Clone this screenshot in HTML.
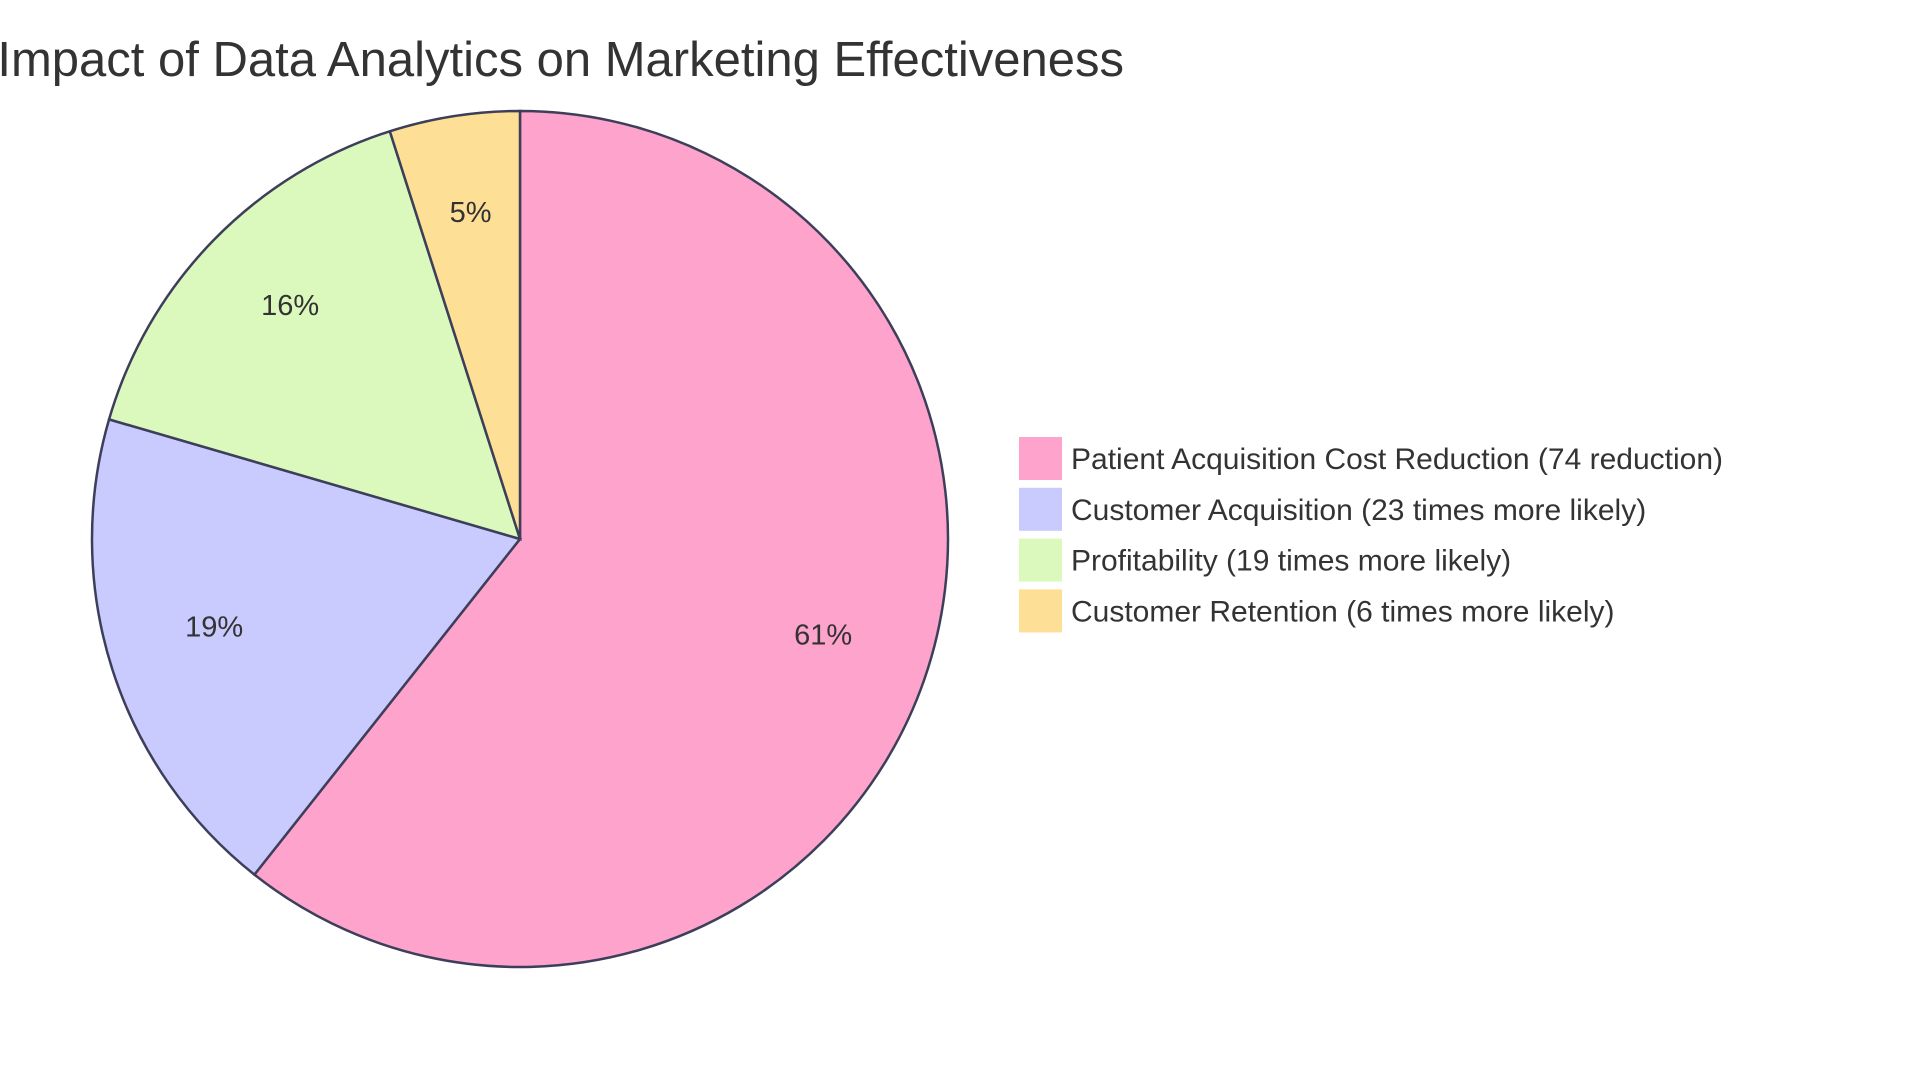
<!DOCTYPE html>
<html><head><meta charset="utf-8"><style>
html,body{margin:0;padding:0;background:#fff;}
svg{display:block;font-family:"Liberation Sans",sans-serif;}
</style></head><body>
<svg id="chart" width="1920" height="1083" viewBox="0 0 1920 1083" xmlns="http://www.w3.org/2000/svg">
<text x="1124" y="76" text-anchor="end" font-size="49" fill="#333">Impact of Data Analytics on Marketing Effectiveness</text>
<g id="slices"></g>
<g id="legend"></g>
</svg>
<script>
const categories = ["Patient Acquisition Cost Reduction (74 reduction)","Customer Acquisition (23 times more likely)","Profitability (19 times more likely)","Customer Retention (6 times more likely)"];
const values = [74, 23, 19, 6];
const colors = ["#fda3cc","#c9cafe","#dcf9bd","#fedf96"];
const NS="http://www.w3.org/2000/svg";
const cx=520, cy=539, r=428;
const total=values.reduce((a,b)=>a+b,0);
const sg=document.getElementById('slices');
let a0=0;
function pt(a,rr){return [cx+rr*Math.sin(a), cy-rr*Math.cos(a)];}
values.forEach((v,i)=>{
  const a1=a0+v/total*2*Math.PI;
  const p0=pt(a0,r), p1=pt(a1,r);
  const large=(a1-a0)>Math.PI?1:0;
  const p=document.createElementNS(NS,'path');
  p.setAttribute('d',`M${cx},${cy}L${p0[0]},${p0[1]}A${r},${r} 0 ${large} 1 ${p1[0]},${p1[1]}Z`);
  p.setAttribute('fill',colors[i]);p.setAttribute('stroke','#3d3f5a');p.setAttribute('stroke-width','2.5');
  
  
  sg.appendChild(p);
  const am=(a0+a1)/2, lp=pt(am,r*0.75);
  const t=document.createElementNS(NS,'text');
  t.setAttribute('x',lp[0]);t.setAttribute('y',lp[1]);
  t.setAttribute('text-anchor','middle');t.setAttribute('font-size','29');t.setAttribute('fill','#333');
  t.textContent=Math.round(v/total*100)+'%';
  
  
  sg.appendChild(t);
  a0=a1;
});
const lg=document.getElementById('legend');
categories.forEach((c,i)=>{
  const y=437+i*50.8;
  const rc=document.createElementNS(NS,'rect');
  rc.setAttribute('x',1019);rc.setAttribute('y',y);rc.setAttribute('width',43);rc.setAttribute('height',43);
  rc.setAttribute('fill',colors[i]);
  
  
  lg.appendChild(rc);
  const t=document.createElementNS(NS,'text');
  t.setAttribute('x',1071);t.setAttribute('y',y+32);t.setAttribute('font-size','30');t.setAttribute('fill','#333');
  t.textContent=c;
  
  
  lg.appendChild(t);
});
</script>
</body></html>
